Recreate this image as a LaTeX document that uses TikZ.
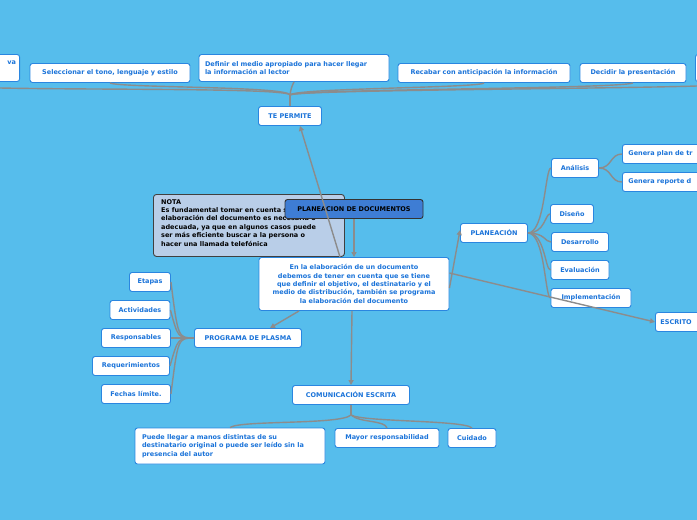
\documentclass[tikz,border=0pt]{standalone}
\usepackage{fontspec}
\setmainfont{DejaVu Sans}
\usetikzlibrary{arrows.meta}
\definecolor{bg}{HTML}{56BDEC}
\definecolor{tx}{HTML}{1A73D9}
\definecolor{bd}{HTML}{2A86E0}
\definecolor{ln}{HTML}{8C8C8C}
\definecolor{notef}{RGB}{185,206,232}
\definecolor{titf}{RGB}{62,125,212}
\tikzset{
 bx/.style={draw=bd,fill=white,rounded corners=2.5pt,line width=0.9pt,text=tx,font=\fontsize{6.5}{8.4}\selectfont\bfseries,inner sep=0pt,minimum height=19pt},
 cn/.style={draw=ln,line width=1.4pt},
 ar/.style={cn,-{Triangle[length=5pt,width=5pt]}},
}
\begin{document}
\begin{tikzpicture}[x=1pt,y=-1pt]
\fill[bg] (0,0) rectangle (697,520);
\useasboundingbox (0,0) rectangle (697,520);
% top row
\node[bx,minimum width=40pt,minimum height=27pt,anchor=east,align=right,text width=33pt] (lc) at (20,68) {va\\\strut};
\node[bx,minimum width=160pt] (tono) at (110,73) {Seleccionar el tono, lenguaje y estilo};
\node[bx,minimum width=190pt,minimum height=27pt,align=left,text width=178pt] (medio) at (294,68) {Definir el medio apropiado para hacer llegar\\la información al lector};
\node[bx,minimum width=172pt] (rec) at (484,73) {Recabar con anticipación la información};
\node[bx,minimum width=106pt] (dec) at (633,73) {Decidir la presentación};
\node[bx,minimum width=30pt,minimum height=27pt,anchor=west] (rc) at (695,68) {};
\node[bx,minimum width=63pt] (te) at (290,116) {TE PERMITE};
\coordinate (hub) at (290,95);
\coordinate (lend) at (0,88);
\coordinate (rend) at (697,86);
\draw[cn] (te.north) -- (hub);
\draw[cn] (hub) .. controls (288,88) and (100,90) .. (lend);
\draw[cn] (hub) .. controls (288,86) and (120,88) .. (tono.south);
\draw[cn] (hub) .. controls (291,88) and (292,86) .. (medio.south);
\draw[cn] (hub) .. controls (295,88) and (480,88) .. (rec.south);
\draw[cn] (hub) .. controls (295,89) and (620,89) .. (dec.south);
\draw[cn] (hub) .. controls (295,90) and (600,89) .. (rend);
% note and title
\node[draw=black!75,fill=notef,rounded corners=3pt,line width=0.9pt,minimum width=191pt,minimum height=62pt,anchor=north west] (nota) at (153,194) {};
\node[anchor=north west,align=left,font=\fontsize{6.5}{8.4}\selectfont\bfseries,inner sep=0pt] (notat) at (161,199) {NOTA\\Es fundamental tomar en cuenta si la\\elaboración del documento es necesaria o\\adecuada, ya que en algunos casos puede\\ser más eficiente buscar a la persona o\\hacer una llamada telefónica};
\node[draw=black!80,fill=titf,rounded corners=2.5pt,line width=0.9pt,font=\fontsize{6.5}{8.4}\selectfont\bfseries,minimum width=138pt,minimum height=19pt,inner sep=0pt] (title) at (354,209) {PLANEACION DE DOCUMENTOS};
\node[bx,minimum width=190pt,minimum height=53pt,align=center,text width=185pt] (cen) at (354,284) {En la elaboración de un documento\\debemos de tener en cuenta que se tiene\\que definir el objetivo, el destinatario y el\\medio de distribución, también se programa\\la elaboración del documento};
\draw[ar] (title.south) -- (cen.north);
\draw[ar] ([xshift=-14pt]cen.north) -- ([xshift=10pt]te.south);
% right
\node[bx,minimum width=67pt] (plan) at (494,233) {PLANEACIÓN};
\node[bx,minimum width=47pt] (ana) at (575,168) {Análisis};
\node[bx,minimum width=80pt,anchor=west,align=left,text width=68pt] (g1) at (622,154) {Genera plan de tr};
\node[bx,minimum width=80pt,anchor=west,align=left,text width=68pt] (g2) at (622,182) {Genera reporte d};
\node[bx,minimum width=43pt] (dis) at (572,214) {Diseño};
\node[bx,minimum width=57pt] (des) at (580,242) {Desarrollo};
\node[bx,minimum width=58pt] (eva) at (580,270) {Evaluación};
\node[bx,minimum width=80pt] (imp) at (591,298) {Implementación};
\node[bx,minimum width=50pt,anchor=west,align=left,text width=40pt] (esc) at (655,322) {ESCRITO};
\draw[ar] ([yshift=-4pt]cen.east) -- ([yshift=3pt]plan.west);
\draw[ar] ([yshift=11pt]cen.east) -- (esc.west);
\foreach \n/\y in {ana/168,dis/214,des/242,eva/270,imp/298}
 \draw[cn] (plan.east) .. controls (545,233) and (545,\y) .. (\n.west);
\draw[cn] (ana.east) .. controls (612,168) and (610,154) .. (g1.west);
\draw[cn] (ana.east) .. controls (612,168) and (610,182) .. (g2.west);
% left
\node[bx,minimum width=107pt] (prog) at (248,338) {PROGRAMA DE PLASMA};
\draw[ar] ([xshift=-55pt]cen.south) -- ([xshift=22pt]prog.north);
\node[bx,minimum width=41pt] (et) at (150,282) {Etapas};
\node[bx,minimum width=60pt] (act) at (140,310) {Actividades};
\node[bx,minimum width=69pt] (res) at (136,338) {Responsables};
\node[bx,minimum width=77pt] (req) at (131,366) {Requerimientos};
\node[bx,minimum width=69pt] (fec) at (136,394) {Fechas límite.};
\foreach \n in {et,act,res,req,fec}
 \draw[cn] (prog.west) .. controls (178,338) and (178,338) .. (\n.east);
% bottom
\node[bx,minimum width=117pt] (com) at (351,395) {COMUNICACIÓN ESCRITA};
\draw[ar] ([xshift=-2pt]cen.south) -- (com.north);
\node[bx,minimum width=190pt,minimum height=36pt,align=left,text width=176pt] (pue) at (230,446) {Puede llegar a manos distintas de su\\destinatario original o puede ser leído sin la\\presencia del autor};
\node[bx,minimum width=104pt] (may) at (387,438) {Mayor responsabilidad};
\node[bx,minimum width=48pt] (cui) at (472,438) {Cuidado};
\coordinate (bh) at (351,415);
\draw[cn] (com.south) -- (bh);
\draw[cn] (bh) .. controls (340,425) and (240,420) .. (pue.north);
\draw[cn] (bh) .. controls (360,423) and (385,420) .. (may.north);
\draw[cn] (bh) .. controls (362,422) and (465,420) .. (cui.north);
\end{tikzpicture}
\end{document}
